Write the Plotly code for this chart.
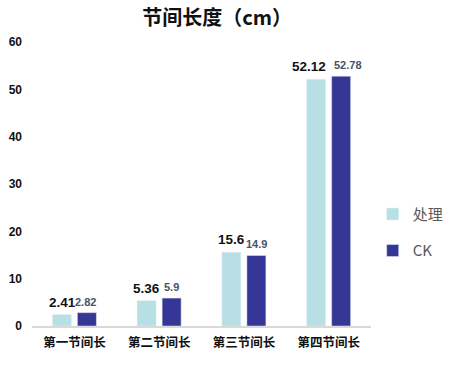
import plotly.graph_objects as go

categories = ["第一节间长", "第二节间长", "第三节间长", "第四节间长"]
treat_vals = [2.41, 5.36, 15.6, 52.12]
ck_vals = [2.82, 5.9, 14.9, 52.78]
series_names = ["处理", "CK"]
tick_vals = [0, 10, 20, 30, 40, 50, 60]

# label nudges (px) used where the two value labels would collide
treat_label_nudge = [1, 0, 0, -7]
ck_label_nudge = [-1, 0, 0, 7]

font_cjk = "Noto Sans CJK SC, Liberation Sans, Arial, sans-serif"
W, H = 459, 366
ML, MR, MT, MB = 32, 88, 42, 40
BARGAP, GROUPGAP = 0.41, 0.24

fig = go.Figure()
fig.add_trace(go.Bar(x=categories, y=treat_vals, name=series_names[0],
                     marker_color="#B8DFE3", legendgroup="a"))
fig.add_trace(go.Bar(x=categories, y=ck_vals, name=series_names[1],
                     marker_color="#363696", legendgroup="b"))

# value labels, positioned from the data through the axes
cat_px = (W - ML - MR) / len(categories)
half_slot = cat_px * (1 - BARGAP) / 4
for i, c in enumerate(categories):
    fig.add_annotation(x=c, y=treat_vals[i], text=str(treat_vals[i]), showarrow=False,
                       xref="x", yref="y", yanchor="bottom",
                       xshift=-half_slot + treat_label_nudge[i], yshift=3,
                       font=dict(family="Liberation Sans, Arial", size=13.5,
                                 color="#111111", weight="bold"))
    fig.add_annotation(x=c, y=ck_vals[i], text=str(ck_vals[i]), showarrow=False,
                       xref="x", yref="y", yanchor="bottom",
                       xshift=half_slot + ck_label_nudge[i], yshift=3,
                       font=dict(family="Liberation Sans, Arial", size=11,
                                 color="#44546A", weight="bold"))

fig.update_layout(
    width=W, height=H,
    margin=dict(l=ML, r=MR, t=MT, b=MB, autoexpand=False),
    paper_bgcolor="white", plot_bgcolor="white",
    barmode="group", bargap=BARGAP, bargroupgap=GROUPGAP,
    title=dict(text="节间长度（cm）", x=0.473, xanchor="center", y=0.952, yanchor="middle",
               font=dict(family=font_cjk, size=20, color="#111111", weight="bold")),
    legend=dict(x=1.005, xanchor="left", y=0.33, yanchor="middle",
                traceorder="grouped", tracegroupgap=14,
                font=dict(family=font_cjk, size=15, color="#595959")),
    xaxis=dict(showline=True, linecolor="#D9D9D9", linewidth=1.5, ticks="", tickangle=0,
               ticklabelstandoff=4, automargin=False,
               tickfont=dict(family=font_cjk, size=12.5, color="#111111", weight="bold")),
    yaxis=dict(range=[0, 60], tickvals=tick_vals, showgrid=False, zeroline=False,
               showline=False, ticks="", ticklabelstandoff=9, automargin=False,
               tickfont=dict(family="Liberation Sans, Arial", size=12, color="#111111", weight="bold")),
)
fig.write_html("out.html")
